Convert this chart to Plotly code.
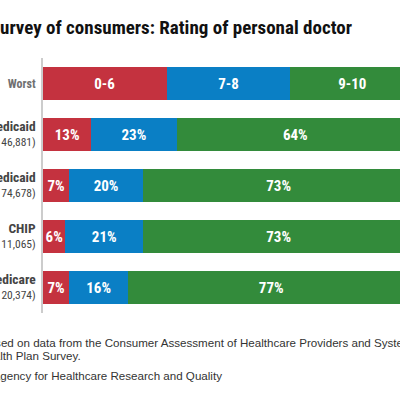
import plotly.graph_objects as go

# ---- data ----
rows = ["Worst", "Adult Medicaid", "Child Medicaid", "CHIP", "Medicare"]
row_n = ["", "(n = 46,881)", "(n = 74,678)", "(n = 11,065)", "(n = 120,374)"]
bands = ["0-6", "7-8", "9-10"]
worst_row = [33.3, 33.4, 33.3]
pct_0_6 = [13, 7, 6, 7]
pct_7_8 = [23, 20, 21, 16]
pct_9_10 = [64, 73, 73, 77]
band_colors = ["#C4323F", "#0A7FC5", "#338B3B"]

title_text = "Survey of consumers: Rating of personal doctor"
note_lines = [
    "Note: Based on data from the Consumer Assessment of Healthcare Providers and Systems",
    "Health Plan Survey.",
    "Source: Agency for Healthcare Research and Quality",
]

COND = "Roboto Condensed, DejaVu Sans Condensed, sans-serif"
REG = "Liberation Sans, Arial, sans-serif"

series = [pct_0_6, pct_7_8, pct_9_10]
ticktext = []
for name, n in zip(rows, row_n):
    if n:
        ticktext.append(f"<span style='font-size:13.5px'><b>{name}</b></span><br>{n}")
    else:
        ticktext.append(f"<span style='font-size:12px;color:#707070'><b>{name}</b></span>")

fig = go.Figure()
for i, band in enumerate(bands):
    vals = [worst_row[i]] + series[i]
    texts = [band] + [f"{v}%" for v in series[i]]
    fig.add_trace(go.Bar(
        y=rows, x=vals, orientation="h", name=band,
        marker=dict(color=band_colors[i], line=dict(width=0)),
        text=texts, textposition="inside", insidetextanchor="middle",
        textangle=0, constraintext="none",
        textfont=dict(family=COND, size=15, color="white", weight="bold"),
        hoverinfo="skip",
    ))

fig.update_layout(
    barmode="stack",
    width=400, height=400,
    margin=dict(l=43, r=0, t=58, b=87, autoexpand=False),
    paper_bgcolor="white", plot_bgcolor="white",
    showlegend=False,
    bargap=0.37,
    xaxis=dict(range=[0, (400 - 43) / 3.71], visible=False, fixedrange=True, automargin=False),
    yaxis=dict(
        type="category", categoryorder="array", categoryarray=rows,
        autorange="reversed", tickvals=rows, ticktext=ticktext,
        showline=True, linecolor="#cccccc", linewidth=2,
        ticks="", showgrid=False, zeroline=False, automargin=False,
        tickfont=dict(family=COND, size=11.5, color="#444444"),
        ticklabelstandoff=3,
    ),
    title=dict(
        text=f"<b>{title_text}</b>", xref="paper", x=(352 - 43) / 357, xanchor="right",
        yref="container", y=1 - 27 / 400, yanchor="middle", automargin=False,
        font=dict(family=COND, size=19, color="#111111"),
    ),
)

note_y = [342.5, 355, 375.5]
note_shift = [-95, -66, -95]
for line, yy, sh in zip(note_lines, note_y, note_shift):
    fig.add_annotation(
        text=line, xref="paper", yref="paper", x=0, xshift=sh, xanchor="left",
        y=(400 - 87 - yy) / 255, yanchor="middle", showarrow=False,
        font=dict(family=REG, size=11.6, color="#333333"), align="left",
    )

fig.write_html(
    "out.html",
    config={"displayModeBar": False},
    post_script="document.body.style.margin='0';document.body.style.overflow='hidden';",
)
